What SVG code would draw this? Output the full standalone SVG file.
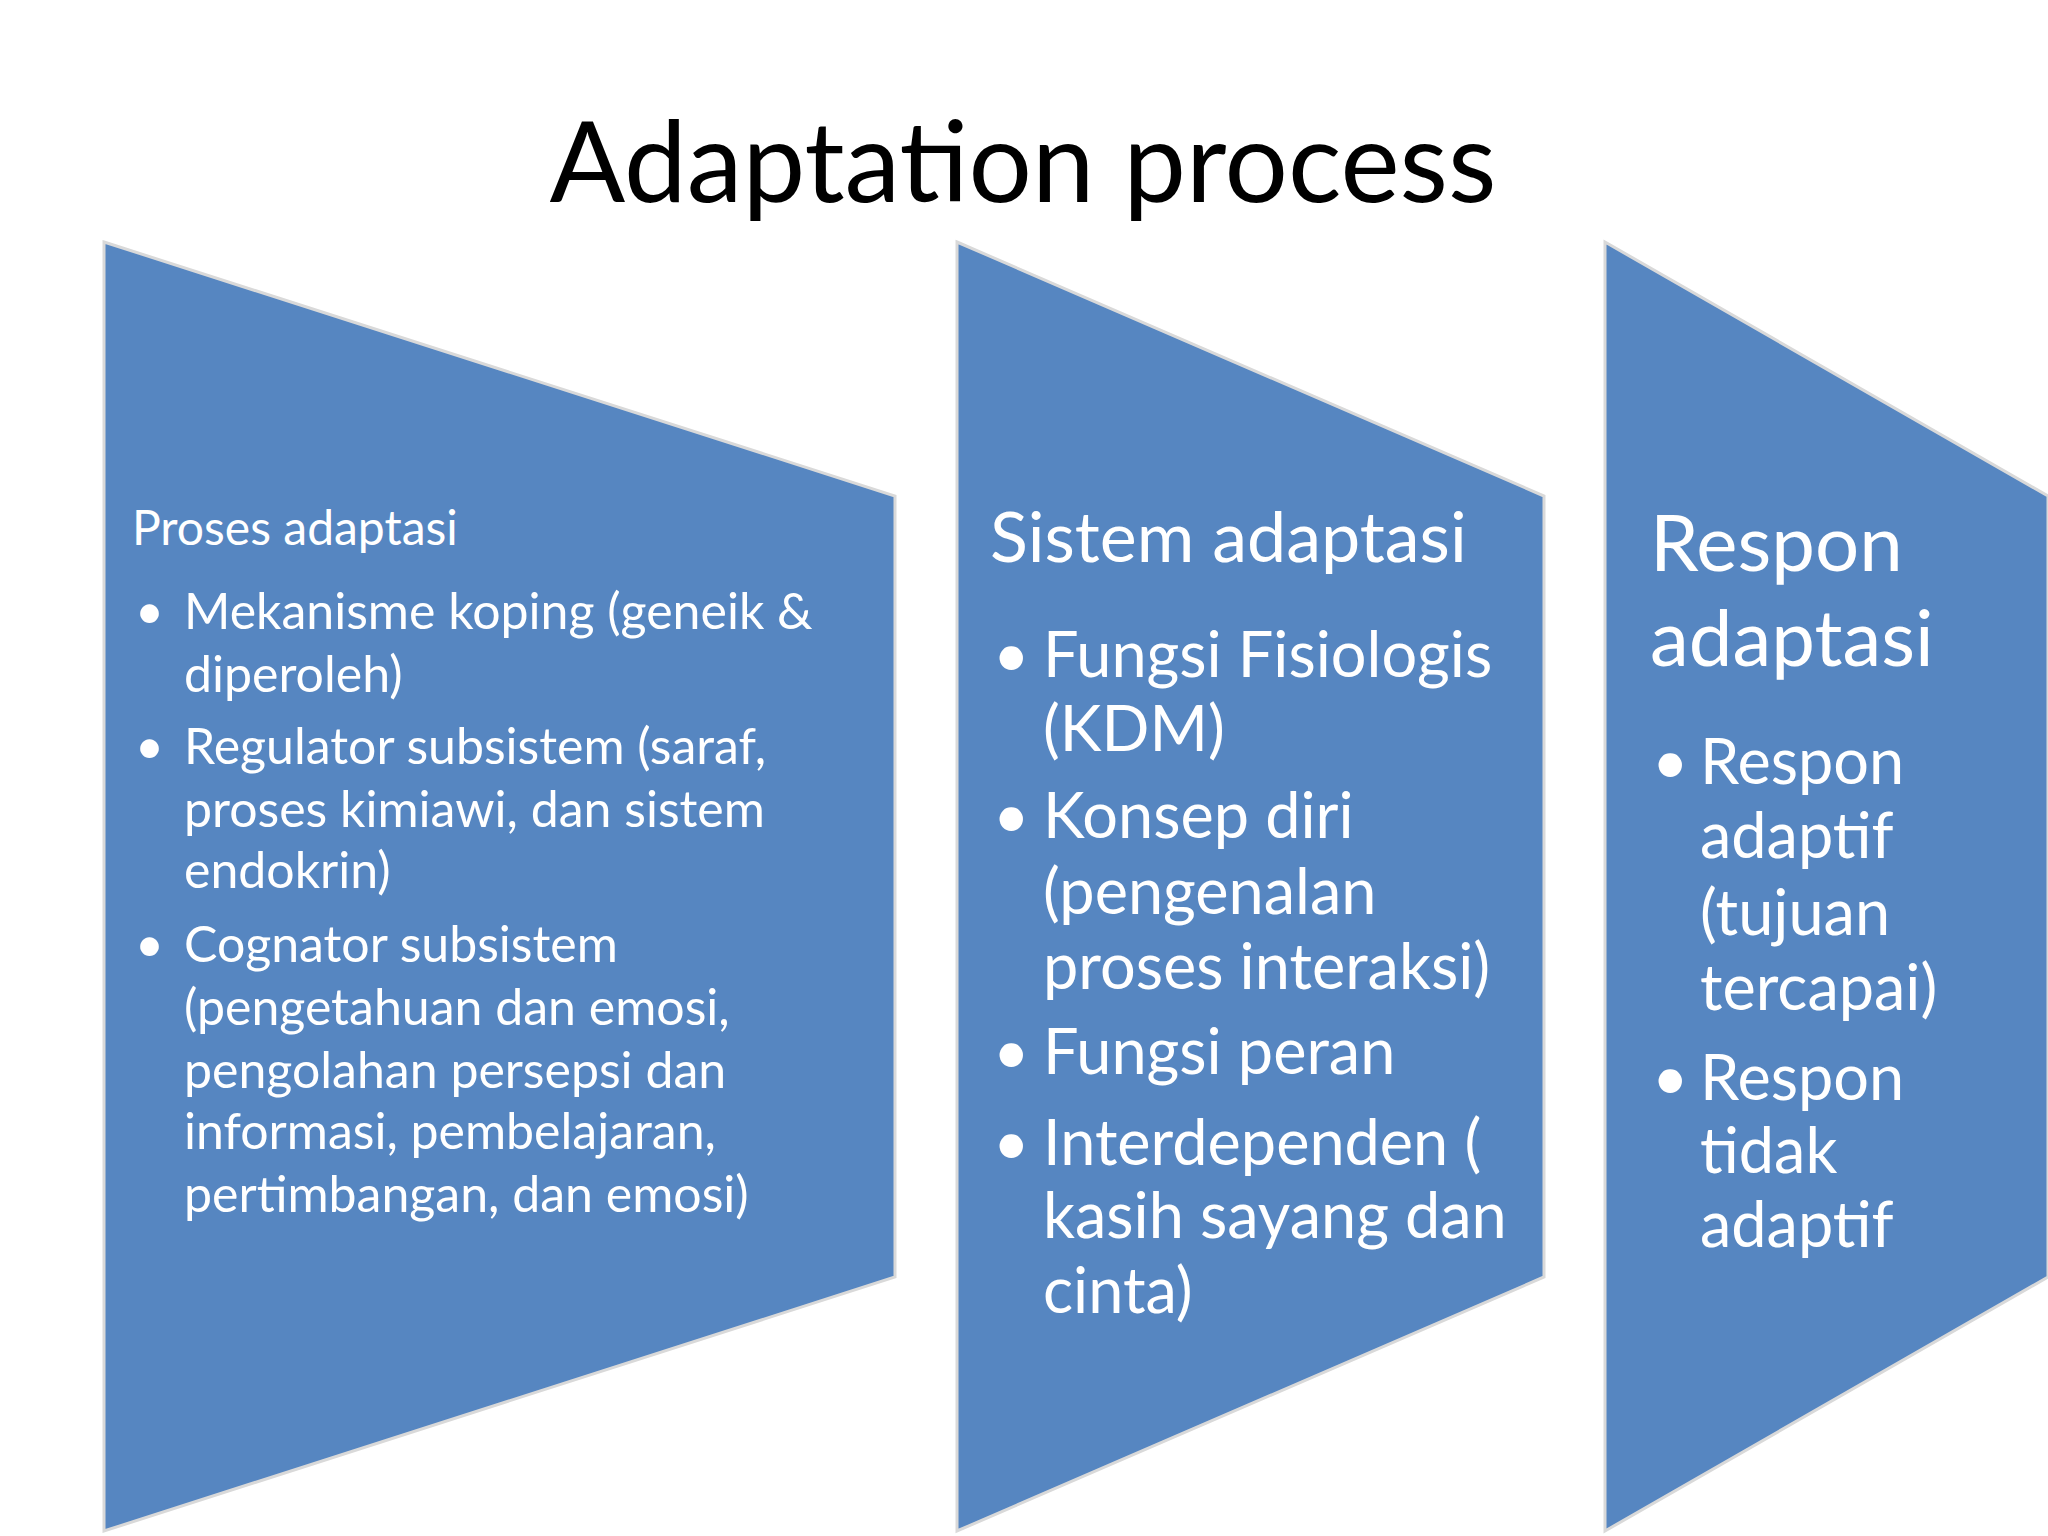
<svg xmlns="http://www.w3.org/2000/svg" width="2048" height="1536" viewBox="0 0 2048 1536">
<style>
.s{fill:#5686c1;stroke:#d9d9d9;stroke-width:3}
text{font-family:Lato,"Open Sans",sans-serif;fill:#fff}
.t1{font-size:50px}.t2{font-size:63px}.t3{font-size:63px}
</style>
<rect width="2048" height="1536" fill="#fff"/>
<text x="1023" y="202" text-anchor="middle" style="font-size:112px;fill:#000">Adaptation process</text>
<g id="n1">
<polygon class="s" points="104,242 895,496 895,1277 104,1531"/>
<text x="132" y="545" class="t1" style="font-size:48px">Proses adaptasi</text>
<g class="t1">
<text x="135" y="629">•</text><text x="184" y="629">Mekanisme koping (geneik &amp;</text>
<text x="184" y="692">diperoleh)</text>
<text x="135" y="764">•</text><text x="184" y="764">Regulator subsistem  (saraf,</text>
<text x="184" y="827">proses kimiawi, dan sistem</text>
<text x="184" y="888">endokrin)</text>
<text x="135" y="962">•</text><text x="184" y="962">Cognator subsistem</text>
<text x="184" y="1025">(pengetahuan dan emosi,</text>
<text x="184" y="1088">pengolahan persepsi dan</text>
<text x="184" y="1149">informasi, pembelajaran,</text>
<text x="184" y="1212">pertimbangan, dan emosi)</text>
</g>
</g>
<g id="n2">
<polygon class="s" points="957,242 1544,496 1544,1277 957,1531"/>
<text x="990" y="562" style="font-size:70px">Sistem adaptasi</text>
<g class="t2">
<text x="993" y="677">•</text><text x="1043" y="677">Fungsi Fisiologis</text>
<text x="1043" y="751">(KDM)</text>
<text x="993" y="838">•</text><text x="1043" y="838">Konsep diri</text>
<text x="1043" y="914">(pengenalan</text>
<text x="1043" y="989">proses interaksi)</text>
<text x="993" y="1074">•</text><text x="1043" y="1074">Fungsi peran</text>
<text x="993" y="1165">•</text><text x="1043" y="1165">Interdependen (</text>
<text x="1043" y="1238">kasih sayang dan</text>
<text x="1043" y="1313">cinta)</text>
</g>
</g>
<g id="n3">
<polygon class="s" points="1605,242 2048,496 2048,1277 1605,1531"/>
<text x="1650" y="571" style="font-size:78px">Respon</text>
<text x="1650" y="666" style="font-size:78px">adaptasi</text>
<g class="t3">
<text x="1652" y="784">•</text><text x="1700" y="784">Respon</text>
<text x="1700" y="858">adaptif</text>
<text x="1700" y="935">(tujuan</text>
<text x="1700" y="1010">tercapai)</text>
<text x="1652" y="1100">•</text><text x="1700" y="1100">Respon</text>
<text x="1700" y="1173">tidak</text>
<text x="1700" y="1247">adaptif</text>
</g>
</g>
<g id="connectors"/>
</svg>
